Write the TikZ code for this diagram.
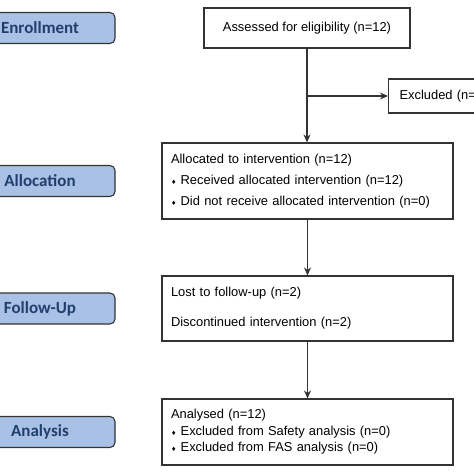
\documentclass[tikz,border=0pt]{standalone}
\usepackage{fontspec}
\setmainfont{Liberation Sans}
\newfontfamily\phasefont{Carlito}
\newfontfamily\symfont{DejaVu Sans}
\usepackage{xcolor}
\usetikzlibrary{arrows.meta}
\usetikzlibrary{calc}
\definecolor{phasefill}{HTML}{A9C1E4}
\definecolor{phasetext}{HTML}{213F6E}
\definecolor{linegray}{HTML}{333333}
\newcommand{\itembullet}{{\symfont\fontsize{6}{6}\selectfont ♦}\ }

\begin{document}
\begin{tikzpicture}[
        x=1pt, y=1pt,
        phase/.style={rectangle, rounded corners=5pt, minimum width=150pt, minimum height=31pt, inner sep=0pt, text centered, draw=linegray, line width=1.1pt, fill=phasefill, text=phasetext, font=\phasefont\bfseries\fontsize{17}{20}\selectfont},
        box/.style={rectangle, draw=linegray, line width=1.1pt, font=\fontsize{12.9}{15.5}\selectfont},
        process/.style={box, minimum width=291pt, text width=273pt, inner xsep=9pt, align=left},
        arrow/.style={line width=1.3pt, draw=linegray, -{Stealth[length=8pt, width=7pt]}}
    ]
        \useasboundingbox (0,0) rectangle (474,-474);

        % ===== phases =====
        \node (enrollment) [phase] at (40,-28) {Enrollment};
        \node (allocation) [phase] at (40,-181) {Allocation};
        \node (followup) [phase] at (40,-308.5) {Follow-Up};
        \node (analysis) [phase] at (40,-432) {Analysis};

        % ===== main flow =====
        \node (assess) [box, minimum width=206pt, minimum height=40pt] at (307,-28) {Assessed for eligibility (n=12)};
        \node (excluded) [box, anchor=west, minimum height=34pt, text width=90pt, inner xsep=11pt, align=left] at (388,-96) {Excluded (n=};
        \node (alloc) [process, minimum height=76pt] at (307.5,-181) {Allocated to intervention (n=12)\\[5.5pt]
            \itembullet Received allocated intervention (n=12)\\[5.5pt]
            \itembullet Did not receive allocated intervention (n=0)};
        \node (follow) [process, minimum height=65pt] at (307.5,-308.5) {Lost to follow-up (n=2)\\[14.5pt]
            Discontinued intervention (n=2)};
        \node (analysed) [process, minimum height=66pt] at (307.5,-432) {Analysed (n=12)\\[1pt]
            \itembullet Excluded from Safety analysis (n=0)\\[1pt]
            \itembullet Excluded from FAS analysis (n=0)};

        % ===== arrows =====
        \coordinate (split) at (assess.south |- excluded.west);
        \draw [arrow] (assess.south) -- (assess.south |- alloc.north);
        \draw [arrow] (split) -- (excluded.west);
        \draw [arrow] (alloc) -- (follow);
        \draw [arrow] (follow) -- (analysed);

    \end{tikzpicture}
\end{document}
